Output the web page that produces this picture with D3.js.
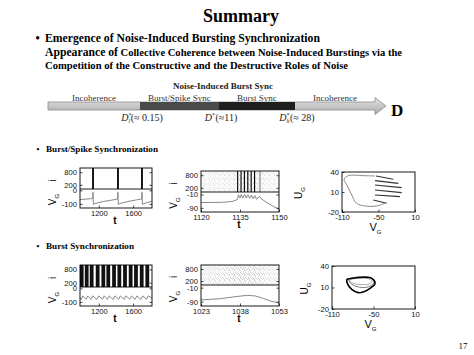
<!DOCTYPE html>
<html><head><meta charset="utf-8">
<script src="https://cdn.jsdelivr.net/npm/d3@7"></script>
<style>body{margin:0;background:#fff}svg{display:block}</style>
</head><body>
<svg id="c" width="474" height="355"></svg>
<script>
// ---------------- DATA ----------------
const titleText = "Summary";
const headLine1 = "Emergence of Noise-Induced Bursting Synchronization";
const headLine2a = "Appearance of";
const headLine2b = "Collective Coherence between Noise-Induced Burstings via the";
const headLine3 = "Competition of the Constructive and  the Destructive Roles of Noise";

const regionLabels = ["Incoherence", "Burst/Spike Sync", "Burst Sync", "Incoherence"];
const regionShades = ["light", "mid", "dark", "light"];
const syncLabel = "Noise-Induced Burst Sync";
const thresholds = [
  {pos: 1, sub: "l", val: "(\u2248 0.15)"},
  {pos: 2, sub: "",  val: "(\u224811)"},
  {pos: 3, sub: "h", val: "(\u2248 28)"}
];
const section1 = "Burst/Spike Synchronization";
const section2 = "Burst Synchronization";

// Panel A: burst/spike sync, long time
const tTicksA = [1200, 1600];
const spikesA = [1132, 1423, 1703];
const vA = [[980,-68],[1060,-64],[1128,-60],[1131,-14],[1134,-60],[1137,-105],[1150,-98],[1250,-82],[1350,-72],
            [1419,-64],[1422,-14],[1425,-60],[1428,-105],[1440,-98],[1540,-82],[1640,-70],[1700,-64],
            [1703,-14],[1706,-60],[1709,-105],[1720,-98],[1820,-80]];
// Panel B: burst/spike sync, zoomed time
const tTicksB = [1120, 1135, 1150];
const spikesB = [1134.1, 1135.4, 1136.7, 1138.0, 1139.3, 1140.6, 1142.7];
const spikeShadeB = [1, 1, 1, 1, 1, 1, 0.45];
const noiseB = [0.35, 0.4, 0.4, 0.45, 0.55, 0.65, 0.65, 0.55, 0.4, 0.35];
const vB = [[1120,-58],[1128,-57],[1132,-52],[1134,-40],[1134.4,-12],[1135,-32],[1135.5,-10],[1136.1,-32],
            [1136.8,-10],[1137.4,-32],[1138.1,-12],[1138.7,-33],[1139.4,-14],[1140,-35],[1140.7,-16],
            [1141.3,-38],[1142.5,-22],[1143.2,-36],[1145,-55],[1147.5,-78],[1150,-98]];
// Panel C: phase portrait (burst/spike)
const uvTicksX = [-110, -50, 10];
const uvTicksY = [-20, 10, 40];
const loopC = [[-40,-7],[-53,-11],[-72,-11],[-86,-7],[-94,5.5],[-102,20.5],[-106.5,29],[-99.6,34.5],[-75,34.5],[-55.8,34]];
const spikeLinesC = [
  [[-54,34],[-25.6,29]],
  [[-55.8,27],[-17.5,23]],
  [[-55.8,20.5],[-11.9,16.5]],
  [[-55.8,13],[-11.9,9]],
  [[-55.8,5.5],[-14.7,3]],
  [[-58.6,-2],[-36.5,-7]]
];
// Panel D: burst sync, long time
const burstsD = [1000, 1058, 1116, 1186, 1252, 1310, 1377, 1439, 1505, 1571, 1633, 1700, 1765];
const burstWidthD = 44;
const vD = [[980,-70],[995,-82],[1012,-55],[1050,-80],[1070,-56],[1108,-81],[1128,-55],[1176,-82],[1198,-56],
            [1243,-80],[1263,-55],[1300,-81],[1320,-56],[1368,-82],[1388,-55],[1430,-81],[1450,-56],
            [1496,-82],[1516,-55],[1562,-80],[1582,-56],[1624,-81],[1644,-55],[1690,-82],[1710,-56],
            [1756,-80],[1776,-55],[1820,-72]];
// Panel E: burst sync, zoomed time
const tTicksE = [1023, 1038, 1053];
const noiseE = [0.45, 0.55, 0.6, 0.65, 0.75, 0.8, 0.8, 0.7, 0.5, 0.45];
const vE = [[1023,-80],[1030,-74],[1036,-62],[1041,-54],[1044,-58],[1047,-72],[1050,-88],[1053,-98]];
// Panel F: phase portrait (burst sync)
const loopsF = [
  [[-88.8,21.4],[-74.3,23.7],[-52.6,22.8],[-47.8,15.8],[-55,8.8],[-64,4],[-72,2.8],[-81.5,7.5],[-87.9,15.8],[-88.8,21.4]],
  [[-87,22],[-74,24.5],[-55,24],[-49,18],[-53,13],[-62,10],[-73,11],[-82,15],[-87,22]],
  [[-85,21],[-72,23],[-58,22.5],[-52,19],[-56,15],[-65,14],[-76,15],[-83,18],[-85,21]]
];
const loopShadeF = ["#000", "#777", "#aaa"];
const loopWidthF = [1.6, 1, 1];

// ---------------- DRAW ----------------
const svg = d3.select("#c");
const serif = "'Liberation Serif','Times New Roman',serif";
const sans = "'Liberation Sans',Arial,sans-serif";

svg.append("text").attr("x", 241).attr("y", 22).attr("text-anchor", "middle")
  .style("font", `bold 18px ${serif}`).text(titleText);
svg.append("text").attr("x", 35.5).attr("y", 42).style("font", `bold 12px ${serif}`).text("\u2022");
svg.append("text").attr("x", 45).attr("y", 42).attr("textLength", 275).attr("lengthAdjust", "spacingAndGlyphs")
  .style("font", `bold 12px ${serif}`).text(headLine1);
svg.append("text").attr("x", 45).attr("y", 56).attr("textLength", 73).attr("lengthAdjust", "spacingAndGlyphs")
  .style("font", `bold 12px ${serif}`).text(headLine2a);
svg.append("text").attr("x", 120.5).attr("y", 56).attr("textLength", 281.5).attr("lengthAdjust", "spacingAndGlyphs")
  .style("font", `bold 10px ${serif}`).text(headLine2b);
svg.append("text").attr("x", 45).attr("y", 69).attr("textLength", 303).attr("lengthAdjust", "spacingAndGlyphs")
  .style("font", `bold 10px ${serif}`).text(headLine3);

// ---- arrow diagram ----
const posScale = d3.scaleLinear().domain([0, 1, 2, 3, 4]).range([48, 140, 219, 295, 375]);
const defs = svg.append("defs");
const grad = defs.append("linearGradient").attr("id", "barg").attr("x1", 0).attr("x2", 0).attr("y1", 0).attr("y2", 1);
grad.append("stop").attr("offset", "0%").attr("stop-color", "#e6e6e6");
grad.append("stop").attr("offset", "100%").attr("stop-color", "#a9a9a9");
const barTop = 102, barBot = 110;
const xEnd = posScale(4);
svg.append("path")
  .attr("d", `M${posScale(0)},${barTop}H${xEnd}V97.5L386,106L${xEnd},114.5V${barBot}H${posScale(0)}Z`)
  .attr("fill", "url(#barg)").attr("stroke", "#8a8a8a").attr("stroke-width", 0.8);
const shadeFill = {mid: "#4a4a4a", dark: "#1f1f1f"};
svg.selectAll("rect.seg").data(regionShades.map((s, i) => ({s, i})).filter(d => d.s !== "light"))
  .enter().append("rect").attr("class", "seg")
  .attr("x", d => posScale(d.i)).attr("width", d => posScale(d.i + 1) - posScale(d.i))
  .attr("y", barTop).attr("height", barBot - barTop).attr("fill", d => shadeFill[d.s]);
svg.selectAll("text.reg").data(regionLabels).enter().append("text").attr("class", "reg")
  .attr("x", (d, i) => (posScale(i) + posScale(i + 1)) / 2)
  .attr("y", 100.5).attr("text-anchor", "middle")
  .style("font", `9px ${serif}`).attr("fill", "#333").text(d => d);
svg.append("text").attr("x", posScale(2) + 4).attr("y", 88.5).attr("text-anchor", "middle")
  .style("font", `bold 9px ${serif}`).attr("fill", "#222").text(syncLabel);
const thY = 121;
const th = svg.selectAll("text.th").data(thresholds).enter().append("text").attr("class", "th")
  .attr("x", d => posScale(d.pos) + 2).attr("y", thY).attr("text-anchor", "middle")
  .style("font", `10px ${serif}`).attr("fill", "#222");
th.append("tspan").style("font-style", "italic").text("D");
th.append("tspan").attr("dy", -4).style("font-size", "6px").text("*");
th.filter(d => d.sub).append("tspan").attr("dx", -3).attr("dy", 6).style("font-size", "6px")
  .style("font-style", "italic").text(d => d.sub);
th.append("tspan").attr("dy", d => d.sub ? -2 : 4).attr("dx", 0.5).text(d => d.val);
svg.append("text").attr("x", 391).attr("y", 115.5).style("font", `bold 17px ${serif}`).text("D");

// section headings
function section(y, text, len) {
  svg.append("text").attr("x", 36.5).attr("y", y).style("font", `bold 8px ${serif}`).text("\u2022");
  svg.append("text").attr("x", 46).attr("y", y).attr("textLength", len).attr("lengthAdjust", "spacingAndGlyphs")
    .style("font", `bold 9px ${serif}`).text(text);
}
section(152, section1, 112);
section(249, section2, 88);

// noise speckle pattern
const pat = defs.append("pattern").attr("id", "speck").attr("patternUnits", "userSpaceOnUse")
  .attr("width", 5).attr("height", 5);
[[0.5,0.5],[2.8,1.6],[1.4,3.2],[3.9,4.1],[4.4,0.2],[0.3,2.4],[2.2,4.5],[3.3,2.9]].forEach(p =>
  pat.append("rect").attr("x", p[0]).attr("y", p[1]).attr("width", 0.7).attr("height", 0.7).attr("fill", "#666"));

const fmt = d => String(d);
function tickStyle(g) {
  g.selectAll("text").style("font", `7.6px ${sans}`).attr("fill", "#111");
  g.selectAll("line").attr("stroke", "#000").attr("stroke-width", 0.7);
  g.select(".domain").remove();
}

function ylabel(x, y, main, sub) {
  const t = svg.append("text").attr("transform", `translate(${x},${y}) rotate(-90)`)
    .attr("text-anchor", "middle").style("font", `10px ${sans}`);
  t.append("tspan").text(main);
  if (sub) t.append("tspan").attr("dy", 2.5).style("font-size", "6px").text(sub);
}
function xlabel(x, y, main, sub, size, weight) {
  const t = svg.append("text").attr("x", x).attr("y", y).attr("text-anchor", "middle")
    .style("font", `${weight || ""} ${size || 10}px ${sans}`);
  t.append("tspan").text(main);
  if (sub) t.append("tspan").attr("dy", 2.5).style("font-size", "6px").text(sub);
}

function timePanel(c) {
  const x = d3.scaleLinear().domain(c.tDom).range([c.x0, c.x1]);
  const yR = d3.scaleLinear().domain([0, 1000]).range([c.div, c.top]);
  const yV = d3.scaleLinear().domain(c.vDom).range([c.bot, c.div]);
  const g = svg.append("g");
  if (c.noise) {
    const step = (c.tDom[1] - c.tDom[0]) / c.noise.length;
    g.selectAll("rect.nz").data(c.noise).enter().append("rect")
      .attr("x", (d, i) => x(c.tDom[0] + i * step)).attr("width", x(c.tDom[0] + step) - x(c.tDom[0]) + 0.1)
      .attr("y", yR(1000)).attr("height", yR(0) - yR(1000))
      .attr("fill", "url(#speck)").attr("opacity", d => d);
  }
  if (c.bursts) {
    g.selectAll("rect.b").data(c.bursts).enter().append("rect")
      .attr("x", d => Math.max(c.x0, x(d - c.bw / 2)))
      .attr("width", d => Math.min(c.x1, x(d + c.bw / 2)) - Math.max(c.x0, x(d - c.bw / 2)))
      .attr("y", yR(1000)).attr("height", yR(0) - yR(1000)).attr("fill", "#111");
  }
  if (c.spikes) {
    g.selectAll("line.s").data(c.spikes).enter().append("line")
      .attr("x1", d => x(d)).attr("x2", d => x(d)).attr("y1", yR(1000)).attr("y2", yR(0))
      .attr("stroke", "#000").attr("stroke-width", c.sw)
      .attr("stroke-opacity", (d, i) => c.shade ? c.shade[i] : 1);
  }
  g.append("path").datum(c.v)
    .attr("d", d3.line().x(d => x(d[0])).y(d => yV(d[1])))
    .attr("fill", "none").attr("stroke", "#7a7a7a").attr("stroke-width", 0.9);
  g.append("rect").attr("x", c.x0).attr("y", c.top).attr("width", c.x1 - c.x0).attr("height", c.bot - c.top)
    .attr("fill", "none").attr("stroke", "#000").attr("stroke-width", 0.9);
  g.append("line").attr("x1", c.x0).attr("x2", c.x1).attr("y1", c.div).attr("y2", c.div)
    .attr("stroke", "#000").attr("stroke-width", 0.9);
  svg.append("g").attr("transform", `translate(0,${c.bot})`)
    .call(d3.axisBottom(x).tickValues(c.tTicks).tickSizeInner(-2.5).tickSizeOuter(0).tickPadding(3).tickFormat(fmt))
    .call(tickStyle);
  svg.append("g").attr("transform", `translate(${c.x0},0)`)
    .call(d3.axisLeft(yR).tickValues([200, 800]).tickSizeInner(-2.5).tickSizeOuter(0).tickPadding(3).tickFormat(fmt))
    .call(tickStyle);
  svg.append("g").attr("transform", `translate(${c.x0},0)`)
    .call(d3.axisLeft(yV).tickValues(c.vTicks).tickSizeInner(-2.5).tickSizeOuter(0).tickPadding(3).tickFormat(fmt))
    .call(tickStyle);
  svg.append("g").attr("transform", `translate(${c.x1},0)`)
    .call(d3.axisRight(yR).tickValues([200, 800]).tickSizeInner(-2.5).tickSizeOuter(0).tickFormat(""))
    .call(tickStyle);
  svg.append("g").attr("transform", `translate(${c.x1},0)`)
    .call(d3.axisRight(yV).tickValues(c.vTicks).tickSizeInner(-2.5).tickSizeOuter(0).tickFormat(""))
    .call(tickStyle);
  ylabel(c.labX, (c.top + c.div) / 2 + 2, "i");
  ylabel(c.labX, (c.div + c.bot) / 2 + 1, "V", "G");
  xlabel((c.x0 + c.x1) / 2 - 1, c.bot + c.tOff, "t", null, 10, "bold");
}

function phasePanel(c) {
  const x = d3.scaleLinear().domain([-110, 10]).range([c.x0, c.x1]);
  const y = d3.scaleLinear().domain([-20, 40]).range([c.bot, c.top]);
  const smooth = d3.line().x(d => x(d[0])).y(d => y(d[1])).curve(d3.curveCatmullRom);
  const straight = d3.line().x(d => x(d[0])).y(d => y(d[1]));
  c.draw(svg.append("g"), smooth, straight);
  svg.append("rect").attr("x", c.x0).attr("y", c.top).attr("width", c.x1 - c.x0).attr("height", c.bot - c.top)
    .attr("fill", "none").attr("stroke", "#000").attr("stroke-width", 0.9);
  svg.append("g").attr("transform", `translate(0,${c.bot})`)
    .call(d3.axisBottom(x).tickValues(uvTicksX).tickSizeInner(-2.5).tickSizeOuter(0).tickPadding(3).tickFormat(fmt))
    .call(tickStyle);
  svg.append("g").attr("transform", `translate(${c.x0},0)`)
    .call(d3.axisLeft(y).tickValues(uvTicksY).tickSizeInner(-2.5).tickSizeOuter(0).tickPadding(3).tickFormat(fmt))
    .call(tickStyle);
  ylabel(c.labX, (c.top + c.bot) / 2 + 1, "U", "G");
  xlabel(x(-50) - 3, c.bot + 19, "V", "G", 11);
}

timePanel({x0: 80, x1: 152, top: 168, div: 189, bot: 208, tDom: [980, 1820], vDom: [-130, 10],
  tTicks: tTicksA, vTicks: [0, -100], spikes: spikesA, sw: 1.8, v: vA, labX: 56, tOff: 16});
timePanel({x0: 201, x1: 279, top: 171, div: 192, bot: 212, tDom: [1120, 1150], vDom: [-115, 5],
  tTicks: tTicksB, vTicks: [-10, -90], noise: noiseB, spikes: spikesB, shade: spikeShadeB, sw: 1.1, v: vB, labX: 177, tOff: 15.5});
phasePanel({x0: 342, x1: 415, top: 172, bot: 212, labX: 302, draw: (g, smooth, straight) => {
  g.append("path").datum(loopC).attr("d", smooth).attr("fill", "none").attr("stroke", "#8a8a8a").attr("stroke-width", 1);
  g.selectAll("path.sp").data(spikeLinesC).enter().append("path").attr("class", "sp")
    .attr("d", straight).attr("fill", "none").attr("stroke", "#333").attr("stroke-width", 1.1);
}});
timePanel({x0: 80, x1: 152, top: 265, div: 287, bot: 306, tDom: [980, 1820], vDom: [-130, 10],
  tTicks: tTicksA, vTicks: [0, -100], bursts: burstsD, bw: burstWidthD, v: vD, labX: 56, tOff: 16});
timePanel({x0: 201, x1: 279, top: 265, div: 285, bot: 306, tDom: [1023, 1053], vDom: [-115, 5],
  tTicks: tTicksE, vTicks: [-10, -90], noise: noiseE, v: vE, labX: 177, tOff: 16});
phasePanel({x0: 332, x1: 415, top: 266, bot: 309, labX: 308, draw: (g, smooth) => {
  g.selectAll("path.lp").data(loopsF.slice().reverse()).enter().append("path")
    .attr("d", d => smooth(d)).attr("fill", "none")
    .attr("stroke", (d, i) => loopShadeF[loopsF.length - 1 - i])
    .attr("stroke-width", (d, i) => loopWidthF[loopsF.length - 1 - i]);
}});

svg.append("text").attr("x", 463).attr("y", 349).attr("text-anchor", "middle")
  .style("font", `9px ${serif}`).text("17");
</script>
</body></html>
